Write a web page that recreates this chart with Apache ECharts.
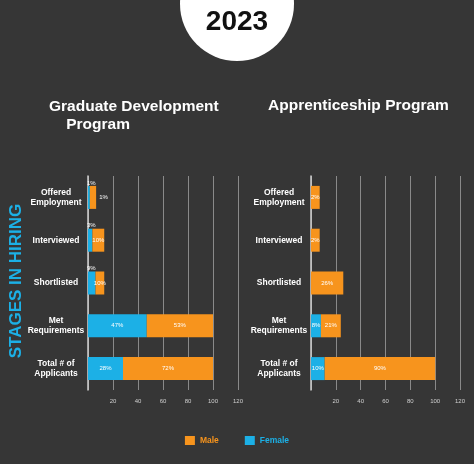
<!DOCTYPE html>
<html>
<head>
<meta charset="utf-8">
<script src="https://cdn.jsdelivr.net/npm/echarts@6/dist/echarts.min.js"></script>
<style>
  html, body { margin: 0; padding: 0; background: #363636; }
  #chart { width: 474px; height: 464px; }
</style>
</head>
<body>
<div id="chart"></div>
<script>
// stages, bottom to top
const stages = ["Total # of\nApplicants", "Met\nRequirements", "Shortlisted", "Interviewed", "Offered\nEmployment"]

// bar lengths as drawn
const gradFemale = [28, 47, 6, 3.5, 1.5]
const gradMale = [72, 53, 7, 9.5, 5]
const appFemale = [11, 8, 0, 0, 0]
const appMale = [89, 16, 26, 7, 7]

// printed percentages
const gradFemaleText = ["28%", "47%", "9%", "3%", "1%"]
const gradMaleText = ["72%", "53%", "10%", "10%", "1%"]
const appFemaleText = ["10%", "8%", "", "", ""]
const appMaleText = ["90%", "21%", "26%", "2%", "2%"]

const BLUE = "#1cb0e6"
const ORANGE = "#f7941d"
const FONT = "Liberation Sans"

const chart = echarts.init(document.getElementById("chart"))

const grids = [
  {left: 88, top: 176, width: 150, height: 214},
  {left: 311, top: 176, width: 149, height: 214},
]

const xAxis = grids.map((g, i) => ({
  gridIndex: i,
  type: "value",
  min: 0,
  max: 120,
  interval: 20,
  axisLine: {show: false},
  axisTick: {show: false},
  splitLine: {lineStyle: {color: "#8a8a8a", width: 1}},
  axisLabel: {color: "#cfcfcf", fontSize: 6, fontFamily: FONT, formatter: v => (v === 0 ? "" : v)},
}))

const yAxis = grids.map((g, i) => ({
  gridIndex: i,
  type: "category",
  data: stages,
  axisLine: {lineStyle: {color: "#d0d0d0", width: 1.5}},
  axisTick: {show: false},
  axisLabel: {
    color: "#ffffff", fontSize: 8.5, fontWeight: "bold", fontFamily: FONT,
    lineHeight: 10, align: "center", margin: 32,
  },
}))

const makeData = (values, texts, female) =>
  values.map((v, i) => {
    const tiny = female ? v < 7 : v < 6
    return {
      value: v,
      label: {
        show: texts[i] !== "",
        formatter: texts[i],
        position: tiny ? (female ? "insideTopLeft" : "right") : "inside",
        offset: tiny && female ? [-4, -9] : [0, 0],
        distance: 3,
      },
    }
  })

const mkSeries = (idx, values, texts, female) => ({
  type: "bar",
  xAxisIndex: idx,
  yAxisIndex: idx,
  stack: "s" + idx,
  barWidth: 23,
  name: female ? "Female" : "Male",
  itemStyle: {color: female ? BLUE : ORANGE},
  label: {color: "#ffffff", fontSize: 6, fontFamily: FONT},
  data: makeData(values, texts, female),
})

chart.setOption({
  backgroundColor: "#363636",
  animation: false,
  graphic: [
    {type: "circle", shape: {cx: 237, cy: 4, r: 57}, style: {fill: "#ffffff"}},
    {type: "text", x: 237, y: 22,
      style: {text: "2023", fill: "#111", font: "bold 28px " + FONT, align: "center", verticalAlign: "middle"}},
    {type: "text", x: 16, y: 281, rotation: Math.PI / 2,
      style: {text: "STAGES IN HIRING", fill: BLUE, font: "bold 17px " + FONT, align: "center", verticalAlign: "middle"}},
  ],
  title: [
    {text: "Graduate Development\n    Program", left: 44, top: 93,
      textStyle: {color: "#fff", fontSize: 15.5, fontWeight: "bold", fontFamily: FONT, lineHeight: 18}},
    {text: "Apprenticeship Program", left: 263, top: 93,
      textStyle: {color: "#fff", fontSize: 15.5, fontWeight: "bold", fontFamily: FONT}},
  ],
  legend: {
    bottom: 14,
    left: "center",
    itemWidth: 10,
    itemHeight: 9,
    itemGap: 26,
    icon: "rect",
    data: [
      {name: "Male", textStyle: {color: ORANGE}},
      {name: "Female", textStyle: {color: BLUE}},
    ],
    textStyle: {fontSize: 8.5, fontWeight: "bold", fontFamily: FONT},
  },
  grid: grids,
  xAxis,
  yAxis,
  series: [
    mkSeries(0, gradFemale, gradFemaleText, true),
    mkSeries(0, gradMale, gradMaleText, false),
    mkSeries(1, appFemale, appFemaleText, true),
    mkSeries(1, appMale, appMaleText, false),
  ],
})
</script>
</body>
</html>
